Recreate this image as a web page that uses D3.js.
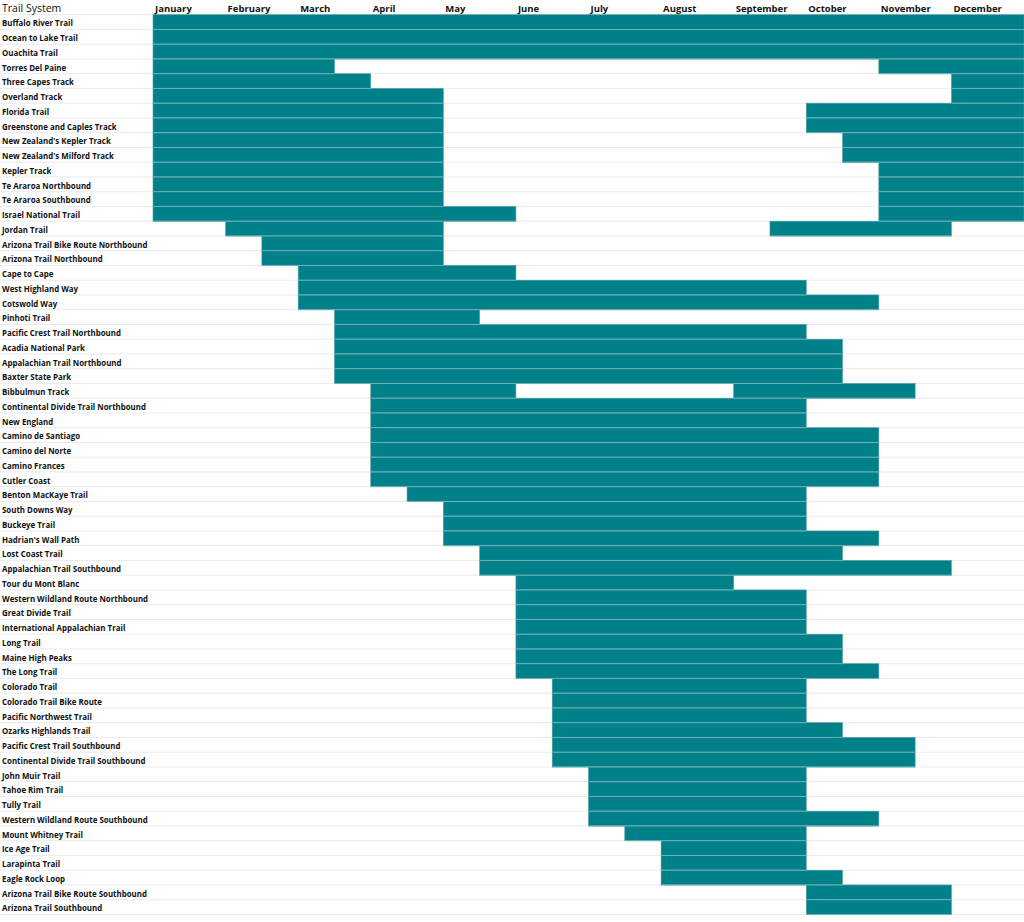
<!DOCTYPE html>
<html>
<head>
<meta charset="utf-8">
<script src="https://cdn.jsdelivr.net/npm/d3@7"></script>
<style>
  body { margin: 0; background: #fff; }
  svg { display: block; }
</style>
</head>
<body>
<div id="chart"></div>
<script>
// month names for header cells
var months = ["January", "February", "March", "April", "May", "June",
  "July", "August", "September", "October", "November", "December"];

var trails = [
  "Buffalo River Trail", "Ocean to Lake Trail", "Ouachita Trail", "Torres Del Paine",
  "Three Capes Track", "Overland Track", "Florida Trail", "Greenstone and Caples Track",
  "New Zealand's Kepler Track", "New Zealand's Milford Track", "Kepler Track",
  "Te Araroa Northbound", "Te Araroa Southbound", "Israel National Trail", "Jordan Trail",
  "Arizona Trail Bike Route Northbound", "Arizona Trail Northbound", "Cape to Cape",
  "West Highland Way", "Cotswold Way", "Pinhoti Trail", "Pacific Crest Trail Northbound",
  "Acadia National Park", "Appalachian Trail Northbound", "Baxter State Park",
  "Bibbulmun Track", "Continental Divide Trail Northbound", "New England",
  "Camino de Santiago", "Camino del Norte", "Camino Frances", "Cutler Coast",
  "Benton MacKaye Trail", "South Downs Way", "Buckeye Trail", "Hadrian's Wall Path",
  "Lost Coast Trail", "Appalachian Trail Southbound", "Tour du Mont Blanc",
  "Western Wildland Route Northbound", "Great Divide Trail", "International Appalachian Trail",
  "Long Trail", "Maine High Peaks", "The Long Trail", "Colorado Trail",
  "Colorado Trail Bike Route", "Pacific Northwest Trail", "Ozarks Highlands Trail",
  "Pacific Crest Trail Southbound", "Continental Divide Trail Southbound", "John Muir Trail",
  "Tahoe Rim Trail", "Tully Trail", "Western Wildland Route Southbound", "Mount Whitney Trail",
  "Ice Age Trail", "Larapinta Trail", "Eagle Rock Loop", "Arizona Trail Bike Route Southbound",
  "Arizona Trail Southbound"
];

// season start/end in months from 1 Jan (half-month steps), one list per trail
var seasons = [
  [[0, 12]], [[0, 12]], [[0, 12]], [[0, 2.5], [10, 12]],
  [[0, 3], [11, 12]], [[0, 4], [11, 12]], [[0, 4], [9, 12]], [[0, 4], [9, 12]],
  [[0, 4], [9.5, 12]], [[0, 4], [9.5, 12]], [[0, 4], [10, 12]],
  [[0, 4], [10, 12]], [[0, 4], [10, 12]], [[0, 5], [10, 12]], [[1, 4], [8.5, 11]],
  [[1.5, 4]], [[1.5, 4]], [[2, 5]],
  [[2, 9]], [[2, 10]], [[2.5, 4.5]], [[2.5, 9]],
  [[2.5, 9.5]], [[2.5, 9.5]], [[2.5, 9.5]],
  [[3, 5], [8, 10.5]], [[3, 9]], [[3, 9]],
  [[3, 10]], [[3, 10]], [[3, 10]], [[3, 10]],
  [[3.5, 9]], [[4, 9]], [[4, 9]], [[4, 10]],
  [[4.5, 9.5]], [[4.5, 11]], [[5, 8]],
  [[5, 9]], [[5, 9]], [[5, 9]],
  [[5, 9.5]], [[5, 9.5]], [[5, 10]], [[5.5, 9]],
  [[5.5, 9]], [[5.5, 9]], [[5.5, 9.5]],
  [[5.5, 10.5]], [[5.5, 10.5]], [[6, 9]],
  [[6, 9]], [[6, 9]], [[6, 10]], [[6.5, 9]],
  [[7, 9]], [[7, 9]], [[7, 9.5]], [[9, 11]],
  [[9, 11]]
];

var width = 1024, height = 922,
    labelWidth = 153,
    headerHeight = 14.7,
    rowHeight = 14.75,
    teal = "#00818a";

var svg = d3.select("#chart").append("svg")
    .attr("width", width)
    .attr("height", height);

var x = d3.scaleLinear()
    .domain([0, 12])
    .range([labelWidth, width]);

var monthBand = d3.scaleBand()
    .domain(months)
    .range([labelWidth, width]);

var y = d3.scaleBand()
    .domain(trails)
    .range([headerHeight, headerHeight + rowHeight * trails.length]);

// row gridlines
svg.append("g").selectAll("line")
    .data(d3.range(trails.length + 1))
    .join("line")
    .attr("x1", 0).attr("x2", width)
    .attr("y1", function(i) { return headerHeight + i * rowHeight; })
    .attr("y2", function(i) { return headerHeight + i * rowHeight; })
    .attr("stroke", "#ebebeb")
    .attr("stroke-width", 1);

// season bars
var segs = [];
trails.forEach(function(t, i) {
  seasons[i].forEach(function(s) { segs.push({ name: t, start: s[0], end: s[1] }); });
});

svg.append("g").selectAll("rect")
    .data(segs)
    .join("rect")
    .attr("x", function(d) { return x(d.start); })
    .attr("y", function(d) { return y(d.name); })
    .attr("width", function(d) { return x(d.end) - x(d.start); })
    .attr("height", y.bandwidth())
    .attr("fill", teal)
    .attr("stroke", "#4f9fa5")
    .attr("stroke-width", 0.6);

// lighter cell borders over the bars
svg.append("g").selectAll("line")
    .data(segs)
    .join("line")
    .attr("x1", function(d) { return x(d.start); })
    .attr("x2", function(d) { return x(d.end); })
    .attr("y1", function(d) { return y(d.name) + y.bandwidth(); })
    .attr("y2", function(d) { return y(d.name) + y.bandwidth(); })
    .attr("stroke", "#6fb0b5")
    .attr("stroke-width", 1);

// header
svg.append("text")
    .attr("x", 2)
    .attr("y", 11.5)
    .style("font-family", "'Open Sans', sans-serif")
    .style("font-size", "10.5px")
    .attr("fill", "#111")
    .text("Trail System");

svg.append("g").selectAll("text")
    .data(months)
    .join("text")
    .attr("x", function(m) { return monthBand(m) + 2; })
    .attr("y", 11.5)
    .style("font-family", "'Open Sans', sans-serif")
    .style("font-size", "9.5px")
    .style("font-weight", "bold")
    .attr("fill", "#111")
    .text(function(m) { return m; });

// trail labels
svg.append("g").selectAll("text")
    .data(trails)
    .join("text")
    .attr("x", 2)
    .attr("y", function(t) { return y(t) + y.bandwidth() / 2 + 4.3; })
    .style("font-family", "'Open Sans', sans-serif")
    .style("font-size", "7.9px")
    .style("font-weight", "bold")
    .attr("fill", "#111")
    .text(function(t) { return t; });
</script>
</body>
</html>
